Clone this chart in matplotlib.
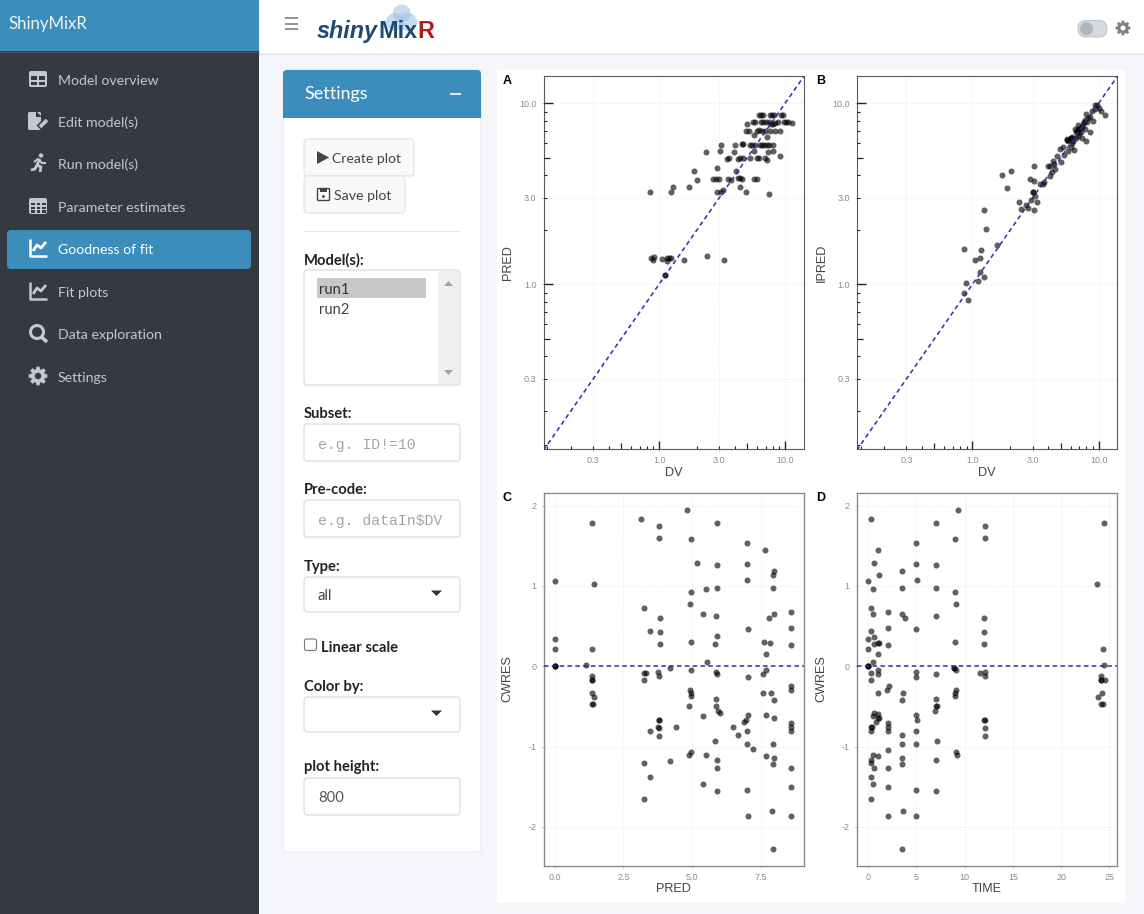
import numpy as np
import matplotlib
matplotlib.use("Agg")
import matplotlib.pyplot as plt
from matplotlib.patches import Rectangle, FancyBboxPatch, Circle, Polygon

W, H = 1144, 914

# ------------------- data -------------------
a_dv = [6.25, 6.49, 6.73, 7.56, 7.84, 8.23, 9.3, 9.64,
        4.99, 5.54, 5.74, 6.45, 6.69, 7.07, 7.42, 7.74, 8.03, 8.38, 8.74, 9.76, 10.2, 10.6, 11.4,
        4.9, 5.21, 5.99, 6.25, 6.57, 6.98, 7.56, 8.38, 9.18, 5.64, 7.2,
        3.09, 4.03, 4.56, 4.64, 5.24, 5.47, 5.82, 6.37, 6.57, 6.77, 7.2, 7.42, 8.03,
        2.36, 3.05, 3.96, 5.64, 7.33, 7.95, 9.05,
        3.44, 3.62, 4.21, 4.42, 4.64, 5.31, 5.99, 6.25, 6.9, 7.2,
        1.88, 2.89, 4.08, 2.01, 1.28, 1.72, 4.39,
        2.68, 2.82, 2.99, 3.51, 3.7, 4.21, 4.42, 4.58, 5.64, 5.99,
        0.85, 1.245, 2.89, 3.09, 3.2, 4.87, 7.42,
        0.87, 0.89, 0.918, 1.05, 1.157, 1.157, 1.2, 1.245, 1.57, 2.42, 3.28, 1.12, 1.12]
a_pred = [8.66, 8.66, 8.66, 8.66, 8.66, 8.66, 8.66, 8.66,
          7.7, 7.92, 7.92, 7.92, 7.92, 7.92, 7.92, 7.7, 7.7, 7.8, 7.92, 7.92, 7.92, 7.92, 7.75,
          7.0, 7.0, 7.0, 7.15, 7.0, 7.0, 7.0, 7.0, 7.0, 6.7, 6.55,
          5.89, 5.89, 5.95, 5.95, 5.89, 5.89, 5.89, 5.89, 5.89, 5.89, 5.89, 5.89, 5.89,
          5.35, 5.45, 5.35, 5.45, 5.35, 5.45, 5.1,
          4.9, 4.97, 4.9, 4.97, 4.97, 4.97, 4.97, 4.97, 4.97, 4.85,
          4.23, 4.4, 4.23, 3.75, 3.46, 3.45, 3.46,
          3.83, 3.83, 3.83, 3.83, 3.75, 3.85, 3.85, 3.83, 3.83, 3.83,
          3.25, 3.25, 3.25, 3.25, 3.33, 3.25, 3.15,
          1.39, 1.37, 1.42, 1.38, 1.39, 1.34, 1.39, 1.39, 1.37, 1.43, 1.36, 1.13, 1.13]

b_dv = [0.85, 1.16, 1.57, 1.04, 1.15, 1.28, 1.245, 1.14, 1.24, 1.11, 0.896, 0.859, 0.918,
        1.72, 2.01, 1.88, 3.05, 2.84, 3.09, 3.01, 3.01, 3.14, 2.89, 3.26, 2.35, 2.42, 2.68, 2.78, 3.05,
        3.46, 3.7, 3.65, 3.96, 4.11, 4.14, 4.26, 4.5, 4.42, 4.39, 4.7, 4.99, 4.93, 5.31, 5.24, 5.74,
        6.4, 5.99, 5.57, 5.77, 6.04, 6.3, 6.57, 6.15, 6.81, 7.03, 6.49, 6.9, 7.2, 7.33, 7.9, 8.58,
        7.77, 6.9, 7.47, 7.77, 8.13, 8.53, 8.99, 8.8, 7.9, 9.36, 9.64, 10.15, 10.5, 11.3, 9.44,
        5.99, 6.57, 6.77, 7.33, 7.65, 8.3, 7.1, 6.2, 5.65]
b_ipred = [1.56, 1.54, 1.65, 1.36, 1.40, 2.03, 2.56, 1.17, 1.10, 1.04, 1.02, 0.90, 0.82,
           4.02, 4.21, 3.42, 4.49, 3.84, 3.71, 3.25, 3.25, 3.08, 2.91, 2.84, 2.84, 2.59, 2.73, 2.64, 2.58,
           3.58, 3.68, 3.58, 4.53, 4.53, 3.95, 4.19, 4.32, 4.6, 4.82, 5.12, 4.72, 5.6, 5.16, 5.71, 5.47,
           5.55, 5.76, 6.32, 6.22, 6.41, 6.2, 6.41, 6.06, 6.6, 6.83, 7.18, 7.18, 6.97, 6.41, 6.2, 6.97,
           7.18, 7.6, 7.69, 8.09, 7.92, 8.44, 7.99, 9.1, 8.69, 9.84, 9.77, 9.46, 9.03, 8.66, 9.27,
           6.4, 6.9, 7.0, 7.4, 7.9, 8.3, 7.3, 6.5, 6.3]

c_pred = [0.0, 0.0, 0.0, 0.0, 0.0, 0.0, 1.14,
          1.35, 1.35, 1.35, 1.35, 1.35, 1.35, 1.42, 1.35, 1.38, 1.44,
          3.15, 3.25, 3.25, 3.25, 3.25, 3.25, 3.33, 3.45, 3.45, 3.45,
          3.8, 3.8, 3.83, 3.83, 3.83, 3.77, 3.8, 3.8, 3.8, 3.75, 3.8, 3.8,
          4.2, 4.2, 4.4,
          4.82, 4.95, 4.97, 4.93, 4.95, 4.95, 4.93, 4.95, 4.95, 4.88, 4.88, 4.96,
          5.17, 5.4, 5.4, 5.4, 5.5, 5.5, 5.53,
          5.9, 5.9, 5.9, 5.88, 5.9, 5.85, 5.87, 5.9, 5.88, 5.88, 5.93, 5.83, 5.9, 5.9, 5.9, 6.0,
          6.5, 6.67, 6.88, 6.97, 7.0, 7.0, 6.98, 7.02, 7.02, 7.03, 6.98, 6.98, 7.0, 7.03, 7.23,
          7.65, 7.6, 7.58, 7.58, 7.7, 7.67, 7.7, 7.7, 7.8, 7.85,
          7.97, 7.95, 7.95, 7.97, 7.88, 7.97, 7.97, 7.93, 7.97, 7.93, 7.9, 7.93,
          8.6, 8.6, 8.6, 8.6, 8.58, 8.6, 8.6, 8.58, 8.6, 8.6, 8.6]
c_cwres = [1.06, 0.34, 0.21, 0.0, 0.0, 0.0, 0.01,
           1.78, 0.21, -0.12, -0.17, -0.17, -0.33, -0.38, -0.47, -0.47, 1.02,
           1.84, 0.73, -0.08, -0.17, -1.2, -1.65, -0.08, 0.44, -0.8, -1.38,
           1.75, 1.6, 0.6, 0.43, 0.28, -0.07, -0.12, -0.67, -0.67, -0.75, -0.77, -0.87,
           -0.02, -1.18, -0.75,
           1.95, 1.59, 0.92, 0.77, 0.3, -0.04, -0.29, -0.33, -0.37, -0.5, -1.1, -1.07,
           1.29, 0.65, -0.62, -1.47, 0.96, -1.1, 0.05,
           1.78, 1.26, 0.97, 0.63, 0.38, 0.28, -0.07, -0.1, -0.41, -0.49, -0.56, -0.93, -1.17, -1.27, -1.55, -0.58,
           -0.75, -0.85, -0.69, -0.67, 1.54, 1.27, 1.08, 0.47, -0.13, -0.61, -0.8, -0.97, -1.54, -1.87, -1.03,
           1.45, 0.3, -0.09, -0.33, 0.15, -0.05, -0.61, -1.12, 0.6, 0.29,
           1.19, 1.14, 0.97, 0.65, -0.33, -0.42, -0.65, -0.97, -1.14, -1.22, -1.8, -2.28,
           0.67, 0.48, 0.26, -0.24, -0.29, -0.71, -0.75, -0.8, -1.27, -1.5, -1.86]

d_time = [0.0, 0.0, 0.0, 0.0, 0.0, 0.0,
          0.28, 0.25, 0.28, 0.25, 0.25, 0.35, 0.3, 0.28, 0.28, 0.3, 0.25, 0.25,
          0.52, 0.52, 0.58, 0.58, 0.52, 0.52, 0.58, 0.52, 0.58, 0.52,
          1.0, 1.13, 1.0, 1.08, 1.0, 1.0, 1.0, 0.97, 1.0, 1.05, 1.13, 1.0, 0.62, 0.8,
          2.0, 2.0, 2.0, 2.1, 1.9, 2.0, 2.0, 2.0, 2.0, 2.0, 2.0, 2.0,
          3.5, 3.5, 3.5, 3.5, 3.5, 3.5, 3.5, 3.6, 3.55, 3.6, 3.5, 3.8,
          5.0, 5.0, 5.05, 5.0, 5.0, 5.0, 5.0, 5.05, 5.0, 5.0, 5.0, 5.0,
          7.05, 7.0, 7.0, 7.05, 7.0, 7.0, 7.05, 7.15, 6.95, 7.15, 7.0, 7.0,
          9.0, 9.0, 9.05, 9.0, 9.05, 8.85, 8.85, 9.05, 9.0, 9.0, 9.05, 9.2, 9.35,
          12.1, 12.1, 12.05, 12.0, 12.0, 12.15, 12.1, 11.6, 12.05, 12.1, 12.1, 12.1,
          23.7, 24.4, 24.35, 24.4, 24.1, 24.1, 24.15, 24.2, 24.1, 24.6, 23.84, 24.35]
d_cwres = [1.06, 0.34, 0.21, 0.0, 0.0, 0.0,
           1.84, 0.73, 0.44, -0.08, -0.17, -0.75, -0.75, -0.8, -1.2, -1.17, -1.38, -1.65,
           0.96, 0.65, 0.37, 0.28, 0.05, -0.62, -0.58, -1.1, -1.27, -1.47,
           1.45, 1.14, 0.29, 0.29, 0.15, -0.05, -0.1, -0.33, -0.6, -0.65, -0.65, -1.12, 1.29, -0.69,
           0.67, 0.48, 0.26, -0.24, -0.29, -0.71, -0.75, -0.8, -1.04, -1.27, -1.5, -1.86,
           1.19, 0.97, 0.65, -0.85, -0.97, -1.14, -1.22, -1.8, -2.28, -0.33, -0.42, 0.6,
           1.54, 1.27, 1.08, 0.47, -0.07, -0.13, -0.61, -0.67, -0.8, -0.97, -1.54, -1.87,
           1.78, 1.26, 0.97, 0.63, -0.1, -0.41, -0.5, -0.5, -0.56, -0.93, -1.17, -1.55,
           1.59, 0.92, 0.77, 0.3, -0.04, -0.02, -0.02, -0.29, -0.33, -0.37, -1.07, -1.1, 1.95,
           1.75, 1.6, 0.6, 0.43, 0.28, -0.07, -0.12, -0.08, -0.67, -0.67, -0.77, -0.87,
           1.02, 1.78, 0.21, 0.01, -0.12, -0.17, -0.17, -0.33, -0.47, -0.17, -0.38, -0.47]

log_ticks = [0.3, 1.0, 3.0, 10.0]
log_labels = ["0.3", "1.0", "3.0", "10.0"]
rug_long = [1.0, 10.0]
rug_mid = [0.5, 5.0]
rug_short = [0.13, 0.2, 0.3, 0.4, 0.6, 0.7, 0.8, 0.9, 2, 3, 4, 6, 7, 8, 9]
pred_ticks = [0.0, 2.5, 5.0, 7.5]
time_ticks = [0, 5, 10, 15, 20, 25]
cwres_ticks = [-2, -1, 0, 1, 2]

menu_items = ["Model overview", "Edit model(s)", "Run model(s)", "Parameter estimates",
              "Goodness of fit", "Fit plots", "Data exploration", "Settings"]
menu_y = [80, 122, 164, 207, 249, 292, 334, 377]

# ------------------- page -------------------
UI = "Lato"
BLUE = "#3c8dbc"
ICON = "#c2c7d0"
fs = lambda px: px * 0.72

fig = plt.figure(figsize=(W / 100, H / 100), dpi=100, facecolor="#f4f6f9")
ui = fig.add_axes([0, 0, 1, 1], zorder=0)
ui.set_xlim(0, W); ui.set_ylim(H, 0); ui.axis("off")


def rect(x0, y0, x1, y1, fc, ec="none", lw=0.0, z=1, r=0.0):
    if r:
        p = FancyBboxPatch((x0 + r, y0 + r), x1 - x0 - 2 * r, y1 - y0 - 2 * r,
                           boxstyle=f"round,pad={r},rounding_size={r}", fc=fc, ec=ec, lw=lw, zorder=z)
    else:
        p = Rectangle((x0, y0), x1 - x0, y1 - y0, fc=fc, ec=ec, lw=lw, zorder=z)
    ui.add_patch(p)


def txt(x, y, s, px=15, color="#212529", weight="normal", family=UI, ha="left", **kw):
    ui.text(x, y, s, fontsize=fs(px), color=color, fontweight=weight, family=family,
            ha=ha, va="center_baseline", zorder=5, **kw)


def line(xs, ys, color, lw=1.0, z=4, **kw):
    ui.plot(xs, ys, color=color, lw=lw, zorder=z, solid_capstyle=kw.pop("cap", "butt"), **kw)


def gear(cx, cy, r, color, hole):
    n = 8
    pts = []
    for i in range(n):
        a = 2 * np.pi * i / n
        for da, rr in [(-0.30, 0.74), (-0.17, 1.0), (0.17, 1.0), (0.30, 0.74)]:
            pts.append([cx + r * rr * np.cos(a + da), cy + r * rr * np.sin(a + da)])
    ui.add_patch(Polygon(pts, fc=color, ec="none", zorder=5))
    ui.add_patch(Circle((cx, cy), r * 0.34, fc=hole, ec="none", zorder=6))


# top bar and sidebar
rect(259, 0, W, 53, "white")
line([259, W], [53.5, 53.5], "#dee2e6", 0.8)
rect(0, 0, 259, H, "#343a40")
rect(0, 0, 259, 51, BLUE)
line([0, 259], [51.5, 51.5], "#4b545c", 0.8)
txt(8, 23, "ShinyMixR", 16.8, "#f2f5f8")

rect(7, 230, 251, 269, BLUE, r=4, z=2)
for name, y in zip(menu_items, menu_y):
    txt(58, y, name, 14.1, "white" if name == "Goodness of fit" else ICON,
        weight="normal")

# menu icons
# table
rect(29, 71, 47, 87, ICON, r=2, z=4)
rect(31, 76, 37, 80, "#343a40", z=5); rect(39, 76, 45, 80, "#343a40", z=5)
rect(31, 82, 37, 85, "#343a40", z=5); rect(39, 82, 45, 85, "#343a40", z=5)
# edit
rect(28, 112, 41, 130, ICON, r=1.5, z=4)
ui.add_patch(Polygon([[36, 111], [42, 117], [36, 117]], fc="#343a40", ec="none", zorder=5))
line([39, 47], [128, 120], "#343a40", 5, z=5)
line([40, 47], [127, 120], ICON, 2.6, z=6)
# run
ui.add_patch(Circle((41, 155.5), 2.2, fc=ICON, ec="none", zorder=5))
line([40, 37, 35, 31], [159, 165, 169, 170], ICON, 2.0, z=5)
line([37, 41, 40], [165, 167, 172], ICON, 2.0, z=5)
line([34, 38, 42, 46], [162, 159, 163, 163], ICON, 1.5, z=5)
# grid
rect(29, 198, 47, 214, ICON, r=2, z=4)
for gx in (31, 36.5, 42):
    for gy in (202.5, 206.5, 210):
        rect(gx, gy, gx + 3.8, gy + 2.6, "#343a40", z=5)


def chart_icon(y, color):
    line([30, 30, 47], [y - 9, y + 8, y + 8], color, 1.8, z=5)
    line([33, 37, 41, 46], [y + 3, y - 3, y, y - 6], color, 2.0, z=5)


chart_icon(248, "white")
chart_icon(291, ICON)
# search
ui.add_patch(Circle((37, 332), 6.5, fc="none", ec=ICON, lw=2.2, zorder=5))
line([41.5, 47], [337, 342], ICON, 2.6, z=5)
gear(38, 376, 9.5, ICON, "#343a40")

# logo
for cx, cy in [(401.7, 13.5), (395, 22), (408, 22)]:
    ui.add_patch(Circle((cx, cy), 9, fc="#9dbde6", ec="none", alpha=0.55, zorder=3))
ui.text(317, 38, "shiny", fontsize=fs(23.4), fontweight="bold", style="italic",
        family="Liberation Sans", color="#1d4a72", zorder=5, va="baseline")
ui.text(378, 38, "Mix", fontsize=fs(23.4), fontweight="bold",
        family="Liberation Sans", color="#1d4a72", zorder=5, va="baseline")
ui.text(417, 38, "R", fontsize=fs(23.4), fontweight="bold",
        family="Liberation Sans", color="#b01c1c", zorder=5, va="baseline")
# hamburger
for yy in (18, 23.5, 29):
    line([285, 297.5], [yy, yy], "#7a8087", 1.2)
# toggle + gear
rect(1078, 20.5, 1107, 37, "#d6dade", ec="#bcc2c8", lw=0.7, r=8, z=3)
ui.add_patch(Circle((1086.5, 28.7), 6.6, fc="#adb5bd", ec="none", zorder=4))
gear(1123, 28, 7.5, "#7c8288", "white")

# settings card
rect(283, 70, 481, 852, "white", ec="#e3e5e8", lw=0.6, r=4, z=1)
rect(283, 70, 481, 110, BLUE, r=4, z=2)
rect(283, 95, 481, 118, BLUE, z=2)
txt(304, 93, "Settings", 17.9, "white")
line([450, 461], [94, 94], "white", 1.2)


def button(x0, y0, x1, y1):
    rect(x0, y0, x1, y1, "#f8f9fa", ec="#dcdee0", lw=0.7, r=4, z=2)


button(304, 139, 414, 176)
ui.add_patch(Polygon([[317, 151], [317, 164], [329, 157.5]], fc="#444", ec="none", zorder=5))
txt(332, 158, "Create plot", 14, "#444")
button(304, 176, 405, 213)
rect(317.5, 188.5, 329.5, 200.5, "none", ec="#444", lw=1.0, r=1, z=5)
rect(320, 188.5, 327, 192, "#444", z=5)
ui.add_patch(Circle((323.5, 196.5), 1.4, fc="#444", ec="none", zorder=5))
txt(334, 195, "Save plot", 14.1, "#444")
line([304, 460], [230.5, 230.5], "#e6e7e8", 0.8)

LABEL = "#1f2328"
INPUT_EC = "#ced4da"


def box(y0, y1):
    rect(304, y0, 460, y1, "white", ec=INPUT_EC, lw=0.7, r=3.5, z=2)


def arrow(y):
    ui.add_patch(Polygon([[431, y - 2.5], [442, y - 2.5], [436.5, y + 3]], fc="#333", ec="none", zorder=5))


txt(304, 259, "Model(s):", 14.8, LABEL, "bold")
box(270, 385)
rect(438, 271, 459, 384, "#f0f0f0", z=3)
ui.add_patch(Polygon([[444, 286], [453, 286], [448.5, 281]], fc="#a3a3a3", ec="none", zorder=5))
ui.add_patch(Polygon([[444, 370], [453, 370], [448.5, 375]], fc="#a3a3a3", ec="none", zorder=5))
rect(317, 278, 426, 298, "#c8c8c8", z=3)
txt(319, 288, "run1", 14.8, "#333")
txt(319, 308, "run2", 14.8, "#444")

txt(304, 413, "Subset:", 14.8, LABEL, "bold")
box(424, 461)
txt(318, 443, "e.g. ID!=10", 14.9, "#a3a7ab", family="Liberation Mono")
txt(304, 489, "Pre-code:", 14.8, LABEL, "bold")
box(500, 537)
txt(318, 519, "e.g. dataIn$DV", 14.9, "#a3a7ab", family="Liberation Mono")
txt(304, 565, "Type:", 14.8, LABEL, "bold")
box(577, 612)
txt(318, 594, "all", 14.8, "#444")
arrow(593)
rect(304.5, 639, 316.5, 650.5, "white", ec="#777", lw=0.8, r=2, z=3)
txt(321, 646, "Linear scale", 14.8, LABEL, "bold")
txt(304, 685, "Color by:", 14.8, LABEL, "bold")
box(697, 732)
arrow(713)
txt(304, 766, "plot height:", 14.8, LABEL, "bold")
box(778, 815)
txt(318, 797, "800", 14.8, "#555")

# plot area background
rect(497, 70, 1125, 903, "white", z=1)

# ------------------- panels -------------------
PLOT_FONT = "Liberation Sans"
DASH = "#2a2aa5"


def panel(x0, y0, x1, y1, xlim, ylim, logscale, border, blw):
    ax = fig.add_axes([x0 / W, 1 - y1 / H, (x1 - x0) / W, (y1 - y0) / H], zorder=2)
    ax.set_facecolor("white")
    if logscale:
        ax.set_xscale("log"); ax.set_yscale("log")
    ax.set_xlim(*xlim); ax.set_ylim(*ylim)
    ax.minorticks_off()
    ax.grid(True, which="major", color="#ebebeb", lw=0.8, ls=(0, (1, 1.5)), zorder=0)
    ax.set_axisbelow(True)
    for s in ax.spines.values():
        s.set_color(border); s.set_linewidth(blw)
    ax.tick_params(which="major", length=1.5, width=0.6, color="#b0b0b0", labelsize=6.5,
                   labelcolor="#8c8c8c", pad=3.5)
    return ax


def finish(ax, xlabel, ylabel, tag, xt, xl, yt, yl, labx, taglabx, ylaby):
    ax.set_xticks(xt); ax.set_xticklabels(xl, family=PLOT_FONT)
    ax.set_yticks(yt); ax.set_yticklabels(yl, family=PLOT_FONT)
    ax.minorticks_off()
    pos = ax.get_position()
    x0, x1 = pos.x0 * W, pos.x1 * W
    y0, y1 = (1 - pos.y1) * H, (1 - pos.y0) * H
    ui.text((x0 + x1) / 2, y1 + 23.5, xlabel, fontsize=9.1, family=PLOT_FONT, color="#444444",
            ha="center", va="center", zorder=6)
    ui.text(labx, ylaby, ylabel, fontsize=9.1, family=PLOT_FONT, color="#444444", rotation=90,
            ha="center", va="center", zorder=6)
    ui.text(taglabx, y0 + 4.5, tag, fontsize=9, family=PLOT_FONT, fontweight="bold", color="black",
            ha="center", va="center", zorder=6)


def rug(ax):
    xtr, ytr = ax.get_xaxis_transform(), ax.get_yaxis_transform()
    for vals, hx, hy, lw in [(rug_long, 8 / 373, 9 / 260, 1.0), (rug_mid, 6 / 373, 6 / 260, 0.9),
                             (rug_short, 3 / 373, 3.5 / 260, 0.8)]:
        for v in vals:
            ax.plot([v, v], [0, hx], transform=xtr, color="#222", lw=lw, zorder=3, solid_capstyle="butt")
            ax.plot([0, hy], [v, v], transform=ytr, color="#222", lw=lw, zorder=3, solid_capstyle="butt")


LOG_LIM_X = (0.121, 14.07)
LOG_LIM_Y = (0.1225, 14.1)
PT = dict(s=19, color="black", alpha=0.62, linewidths=0, zorder=4, clip_on=True)
DASH_STYLE = dict(color=DASH, lw=1.15, ls=(0, (2.8, 2.1)), zorder=5, alpha=0.95)

axA = panel(543.5, 76.3, 803.8, 449.3, LOG_LIM_X, LOG_LIM_Y, True, "#5a5a5a", 0.8)
axA.plot(LOG_LIM_X, LOG_LIM_X, **DASH_STYLE)
axA.scatter(a_dv, a_pred, **PT)
rug(axA)
axA.set_xlim(*LOG_LIM_X); axA.set_ylim(*LOG_LIM_Y)
finish(axA, "DV", "PRED", "A", log_ticks, log_labels, log_ticks, log_labels, 507.7, 507, 262.7)

axB = panel(856.7, 76.3, 1117.3, 449.3, LOG_LIM_X, LOG_LIM_Y, True, "#5a5a5a", 0.8)
axB.plot(LOG_LIM_X, LOG_LIM_X, **DASH_STYLE)
axB.scatter(b_dv, b_ipred, **PT)
rug(axB)
axB.set_xlim(*LOG_LIM_X); axB.set_ylim(*LOG_LIM_Y)
finish(axB, "DV", "IPRED", "B", log_ticks, log_labels, log_ticks, log_labels, 821.5, 821, 262.7)

CW_LIM = (-2.487, 2.158)
axC = panel(543.5, 493, 804, 866, (-0.408, 9.07), CW_LIM, False, "#8a8a8a", 1.0)
axC.axhline(0, **DASH_STYLE)
axC.scatter(c_pred, c_cwres, **PT)
finish(axC, "PRED", "CWRES", "C", pred_ticks, [f"{v:.1f}" for v in pred_ticks],
       cwres_ticks, [str(v) for v in cwres_ticks], 507.7, 507, 679)

axD = panel(856.7, 493, 1117.3, 866, (-1.2, 25.83), CW_LIM, False, "#8a8a8a", 1.0)
axD.axhline(0, **DASH_STYLE)
axD.scatter(d_time, d_cwres, **PT)
finish(axD, "TIME", "CWRES", "D", time_ticks, [str(v) for v in time_ticks],
       cwres_ticks, [str(v) for v in cwres_ticks], 821.5, 821, 679)

fig.savefig("out.png", dpi=100, facecolor=fig.get_facecolor())
